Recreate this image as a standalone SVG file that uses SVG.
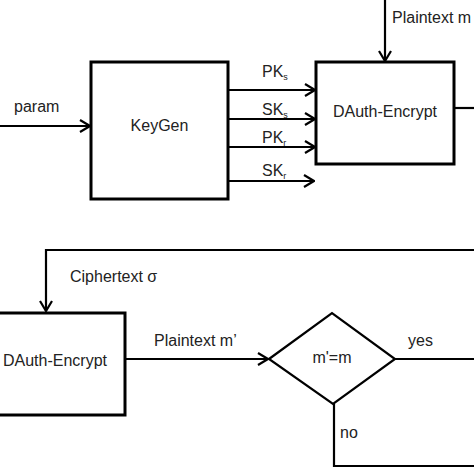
<svg xmlns="http://www.w3.org/2000/svg" width="474" height="474" viewBox="0 0 474 474">
<defs>
<marker id="arr" viewBox="0 0 12 14" refX="11" refY="7" markerWidth="12" markerHeight="14" markerUnits="userSpaceOnUse" orient="auto">
<path d="M1,1 L11,7 L1,13" fill="none" stroke="#000" stroke-width="2.2"/>
</marker>
</defs>
<style>
text{font-family:"Liberation Sans",Arial,sans-serif;font-size:16px;fill:#222}
.box{fill:#fff;stroke:#000;stroke-width:3}
.dia{fill:#fff;stroke:#000;stroke-width:2.2}
.c{fill:none;stroke:#000;stroke-width:2.2}
.sub{font-size:9px}
</style>
<rect width="474" height="474" fill="#fff"/>
<g id="connectors">
<line class="c" x1="0" y1="126" x2="90" y2="126" marker-end="url(#arr)"/>
<line class="c" x1="228" y1="90" x2="315" y2="90" marker-end="url(#arr)"/>
<line class="c" x1="228" y1="119" x2="315" y2="119" marker-end="url(#arr)"/>
<line class="c" x1="228" y1="147" x2="315" y2="147" marker-end="url(#arr)"/>
<line class="c" x1="228" y1="181" x2="314" y2="181" marker-end="url(#arr)"/>
<line class="c" x1="385" y1="0" x2="385" y2="61" marker-end="url(#arr)"/>
<line class="c" x1="454" y1="108" x2="474" y2="108"/>
<polyline class="c" points="474,250 46,250 46,311" marker-end="url(#arr)"/>
<line class="c" x1="125" y1="359" x2="268" y2="359" marker-end="url(#arr)"/>
<line class="c" x1="395" y1="359" x2="474" y2="359"/>
<polyline class="c" points="334,404 334,466 474,466"/>
<text x="14" y="112">param</text>
<text x="262" y="77">PK<tspan class="sub" dy="3">s</tspan></text>
<text x="262" y="115">SK<tspan class="sub" dy="3">s</tspan></text>
<text x="262" y="143">PK<tspan class="sub" dy="3">r</tspan></text>
<text x="262" y="176">SK<tspan class="sub" dy="3">r</tspan></text>
<text x="392" y="23">Plaintext m</text>
<text x="70" y="282">Ciphertext σ</text>
<text x="154" y="346">Plaintext m’</text>
<text x="408" y="346">yes</text>
<text x="340" y="438">no</text>
</g>
<g id="keygen">
<rect class="box" x="91" y="62" width="137" height="137"/>
<text x="159.5" y="131" text-anchor="middle">KeyGen</text>
</g>
<g id="encrypt1">
<rect class="box" x="316" y="62" width="138" height="102"/>
<text x="385" y="117" text-anchor="middle">DAuth-Encrypt</text>
</g>
<g id="encrypt2">
<rect class="box" x="-20" y="313" width="145" height="102"/>
<text x="55" y="366" text-anchor="middle">DAuth-Encrypt</text>
</g>
<g id="decision">
<polygon class="dia" points="269,359 332,313 395,359 333,404"/>
<text x="332" y="363" text-anchor="middle">m'=m</text>
</g>
</svg>
